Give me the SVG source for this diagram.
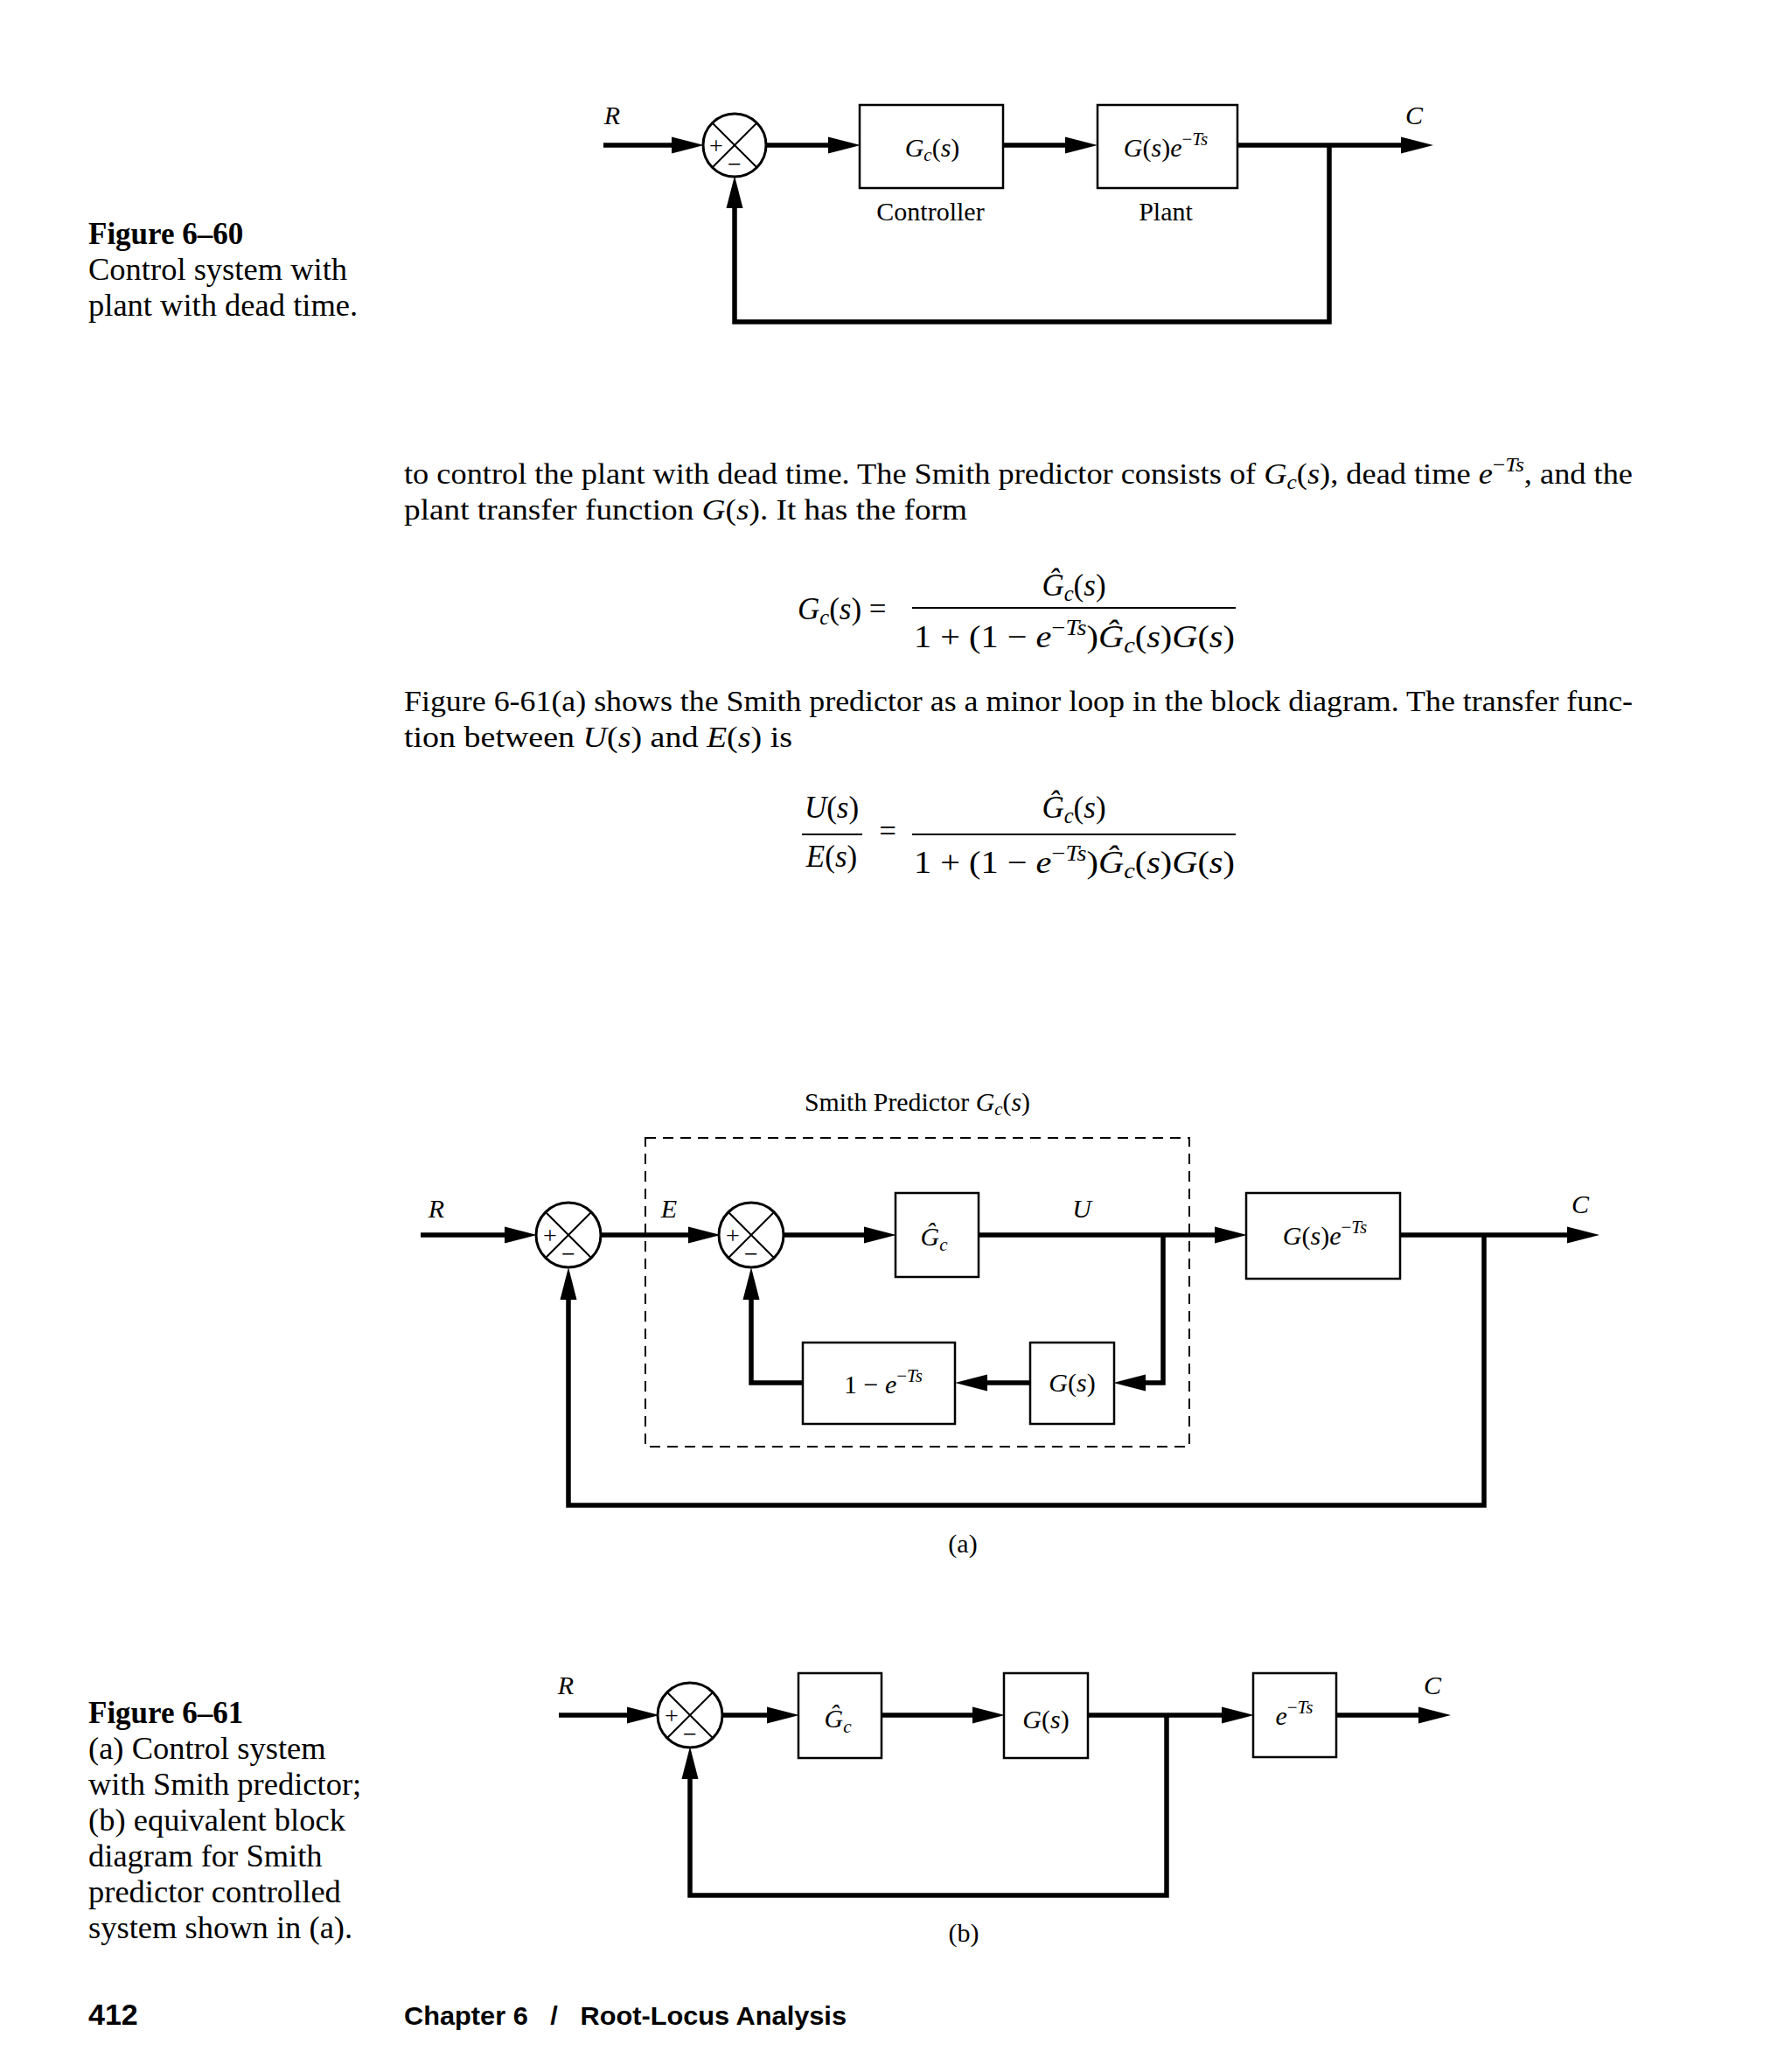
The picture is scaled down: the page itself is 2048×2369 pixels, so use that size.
<svg xmlns="http://www.w3.org/2000/svg" width="2048" height="2369" viewBox="0 0 2048 2369">
<defs>
<marker id="ah" markerUnits="userSpaceOnUse" markerWidth="38" markerHeight="20" refX="16" refY="10" orient="auto"><path d="M0,0.5 L37,10 L0,19.5 Z" fill="#000"/></marker>
</defs>
<style>
.ln{fill:none;stroke:#000;stroke-width:5.5;stroke-linejoin:miter}
.ar{marker-end:url(#ah)}
.box{fill:#fff;stroke:#000;stroke-width:2.5}
.sj{fill:#fff;stroke:#000;stroke-width:3}
.sx{stroke:#000;stroke-width:2}
.dash{fill:none;stroke:#000;stroke-width:2;stroke-dasharray:12 8}
.bar{stroke:#000;stroke-width:1.8}
text{font-family:"Liberation Serif","Times New Roman",serif;fill:#000}
.lb{font-size:30px}
.it{font-style:italic}
.sub{font-size:70%}
.cap{font-size:36.5px}
.capb{font-size:35px;font-weight:bold}
.body{font-size:33px}
.eq{font-size:35px}
.sans{font-family:"Liberation Sans",Arial,sans-serif;font-weight:bold}
.sg{font-size:28px}
</style>
<rect width="2048" height="2369" fill="#fff"/>

<!-- Figure 6-60 caption -->
<g id="caption60">
<text class="capb" x="101" y="279">Figure 6–60</text>
<text class="cap" x="101" y="320">Control system with</text>
<text class="cap" x="101" y="361">plant with dead time.</text>
</g>

<!-- Figure 6-60 diagram -->
<g id="fig60">
<g id="f60-connectors">
<path class="ln ar" d="M690,166 H784"/>
<path class="ln ar" d="M876,166 H963"/>
<path class="ln ar" d="M1147,166 H1234"/>
<path class="ln ar" d="M1415,166 H1618"/>
<path class="ln ar" d="M1520,166 V368 H840 V222"/>
</g>
<g id="f60-sum">
<circle class="sj" cx="840" cy="166" r="36"/>
<line class="sx" x1="814.5" y1="140.5" x2="865.5" y2="191.5"/>
<line class="sx" x1="865.5" y1="140.5" x2="814.5" y2="191.5"/>
<text class="sg" x="819" y="176" text-anchor="middle">+</text>
<text class="sg" x="840" y="197" text-anchor="middle">−</text>
</g>
<g id="f60-controller">
<rect class="box" x="983" y="120" width="164" height="95"/>
<text class="lb" x="1066" y="179" text-anchor="middle"><tspan class="it">G</tspan><tspan class="sub it" dy="5">c</tspan><tspan dy="-5">(</tspan><tspan class="it">s</tspan>)</text>
<text class="lb" x="1064" y="252" text-anchor="middle">Controller</text>
</g>
<g id="f60-plant">
<rect class="box" x="1255" y="120" width="160" height="95"/>
<text class="lb" x="1333" y="179" text-anchor="middle"><tspan class="it">G</tspan>(<tspan class="it">s</tspan>)<tspan class="it">e</tspan><tspan class="sub" dy="-13">−<tspan class="it">Ts</tspan></tspan></text>
<text class="lb" x="1333" y="252" text-anchor="middle">Plant</text>
</g>
<text class="lb it" x="700" y="142" text-anchor="middle">R</text>
<text class="lb it" x="1617" y="142" text-anchor="middle">C</text>
</g>

<!-- Body text -->
<g id="bodytext">
<text class="body" x="462" y="553" textLength="1405" lengthAdjust="spacingAndGlyphs">to control the plant with dead time. The Smith predictor consists of <tspan class="it">G</tspan><tspan class="sub it" dy="6">c</tspan><tspan dy="-6">(</tspan><tspan class="it">s</tspan>), dead time <tspan class="it">e</tspan><tspan class="sub" dy="-14">−<tspan class="it">Ts</tspan></tspan><tspan dy="14">, and the</tspan></text>
<text class="body" x="462" y="594" textLength="644" lengthAdjust="spacingAndGlyphs">plant transfer function <tspan class="it">G</tspan>(<tspan class="it">s</tspan>). It has the form</text>

<text class="eq" x="912" y="708"><tspan class="it">G</tspan><tspan class="sub it" dy="6">c</tspan><tspan dy="-6">(</tspan><tspan class="it">s</tspan>)  =</text>
<text class="eq" x="1228" y="681" text-anchor="middle"><tspan class="it">Ĝ</tspan><tspan class="sub it" dy="6">c</tspan><tspan dy="-6">(</tspan><tspan class="it">s</tspan>)</text>
<line class="bar" x1="1043" y1="695" x2="1413" y2="695"/>
<text class="eq" x="1045" y="740" textLength="367" lengthAdjust="spacingAndGlyphs">1 + (1 − <tspan class="it">e</tspan><tspan class="sub" dy="-14">−<tspan class="it">Ts</tspan></tspan><tspan dy="14">)</tspan><tspan class="it">Ĝ</tspan><tspan class="sub it" dy="6">c</tspan><tspan dy="-6">(</tspan><tspan class="it">s</tspan>)<tspan class="it">G</tspan>(<tspan class="it">s</tspan>)</text>

<text class="body" x="462" y="813" textLength="1405" lengthAdjust="spacingAndGlyphs">Figure 6-61(a) shows the Smith predictor as a minor loop in the block diagram. The transfer func-</text>
<text class="body" x="462" y="854" textLength="444" lengthAdjust="spacingAndGlyphs">tion between <tspan class="it">U</tspan>(<tspan class="it">s</tspan>) and <tspan class="it">E</tspan>(<tspan class="it">s</tspan>) is</text>

<text class="eq" x="951" y="935" text-anchor="middle"><tspan class="it">U</tspan>(<tspan class="it">s</tspan>)</text>
<line class="bar" x1="917" y1="954" x2="986" y2="954"/>
<text class="eq" x="951" y="991" text-anchor="middle"><tspan class="it">E</tspan>(<tspan class="it">s</tspan>)</text>
<text class="eq" x="1015" y="962" text-anchor="middle">=</text>
<text class="eq" x="1228" y="935" text-anchor="middle"><tspan class="it">Ĝ</tspan><tspan class="sub it" dy="6">c</tspan><tspan dy="-6">(</tspan><tspan class="it">s</tspan>)</text>
<line class="bar" x1="1043" y1="954" x2="1413" y2="954"/>
<text class="eq" x="1045" y="998" textLength="367" lengthAdjust="spacingAndGlyphs">1 + (1 − <tspan class="it">e</tspan><tspan class="sub" dy="-14">−<tspan class="it">Ts</tspan></tspan><tspan dy="14">)</tspan><tspan class="it">Ĝ</tspan><tspan class="sub it" dy="6">c</tspan><tspan dy="-6">(</tspan><tspan class="it">s</tspan>)<tspan class="it">G</tspan>(<tspan class="it">s</tspan>)</text>
</g>

<!-- Figure 6-61(a) -->
<g id="fig61a">
<text class="lb" x="920" y="1270" textLength="258" lengthAdjust="spacingAndGlyphs">Smith Predictor <tspan class="it">G</tspan><tspan class="sub it" dy="5">c</tspan><tspan dy="-5">(</tspan><tspan class="it">s</tspan>)</text>
<rect id="a-smithbox" class="dash" x="738" y="1301" width="622" height="353"/>
<g id="a-connectors">
<path class="ln ar" d="M481,1412 H593"/>
<path class="ln ar" d="M687,1412 H803"/>
<path class="ln ar" d="M895,1412 H1004"/>
<path class="ln ar" d="M1119,1412 H1405"/>
<path class="ln ar" d="M1330,1412 V1581 H1294"/>
<path class="ln ar" d="M1178,1581 H1113"/>
<path class="ln ar" d="M918,1581 H859 V1470"/>
<path class="ln ar" d="M1601,1412 H1808"/>
<path class="ln ar" d="M1697,1412 V1721 H650 V1470"/>
</g>
<g id="a-sum1">
<circle class="sj" cx="650" cy="1412" r="37"/>
<line class="sx" x1="623.8" y1="1385.8" x2="676.2" y2="1438.2"/>
<line class="sx" x1="676.2" y1="1385.8" x2="623.8" y2="1438.2"/>
<text class="sg" x="629" y="1422" text-anchor="middle">+</text>
<text class="sg" x="650" y="1443" text-anchor="middle">−</text>
</g>
<g id="a-sum2">
<circle class="sj" cx="859" cy="1412" r="37"/>
<line class="sx" x1="832.8" y1="1385.8" x2="885.2" y2="1438.2"/>
<line class="sx" x1="885.2" y1="1385.8" x2="832.8" y2="1438.2"/>
<text class="sg" x="838" y="1422" text-anchor="middle">+</text>
<text class="sg" x="859" y="1443" text-anchor="middle">−</text>
</g>
<g id="a-gchat">
<rect class="box" x="1024" y="1364" width="95" height="96"/>
<text class="lb" x="1068" y="1424" text-anchor="middle"><tspan class="it">Ĝ</tspan><tspan class="sub it" dy="6">c</tspan></text>
</g>
<g id="a-gs">
<rect class="box" x="1178" y="1535" width="96" height="93"/>
<text class="lb" x="1226" y="1591" text-anchor="middle"><tspan class="it">G</tspan>(<tspan class="it">s</tspan>)</text>
</g>
<g id="a-deadcomp">
<rect class="box" x="918" y="1535" width="174" height="93"/>
<text class="lb" x="1010" y="1593" text-anchor="middle">1 − <tspan class="it">e</tspan><tspan class="sub" dy="-13">−<tspan class="it">Ts</tspan></tspan></text>
</g>
<g id="a-plant">
<rect class="box" x="1425" y="1364" width="176" height="98"/>
<text class="lb" x="1515" y="1423" text-anchor="middle"><tspan class="it">G</tspan>(<tspan class="it">s</tspan>)<tspan class="it">e</tspan><tspan class="sub" dy="-13">−<tspan class="it">Ts</tspan></tspan></text>
</g>
<text class="lb it" x="499" y="1392" text-anchor="middle">R</text>
<text class="lb it" x="765" y="1392" text-anchor="middle">E</text>
<text class="lb it" x="1237" y="1392" text-anchor="middle">U</text>
<text class="lb it" x="1807" y="1387" text-anchor="middle">C</text>
<text class="lb" x="1101" y="1775" text-anchor="middle">(a)</text>
</g>

<!-- Figure 6-61(b) -->
<g id="fig61b">
<g id="b-connectors">
<path class="ln ar" d="M639,1961 H733"/>
<path class="ln ar" d="M825,1961 H893"/>
<path class="ln ar" d="M1008,1961 H1128"/>
<path class="ln ar" d="M1244,1961 H1413"/>
<path class="ln ar" d="M1528,1961 H1638"/>
<path class="ln ar" d="M1334,1961 V2167 H789 V2018"/>
</g>
<g id="b-sum">
<circle class="sj" cx="789" cy="1961" r="37"/>
<line class="sx" x1="762.8" y1="1934.8" x2="815.2" y2="1987.2"/>
<line class="sx" x1="815.2" y1="1934.8" x2="762.8" y2="1987.2"/>
<text class="sg" x="768" y="1971" text-anchor="middle">+</text>
<text class="sg" x="789" y="1992" text-anchor="middle">−</text>
</g>
<g id="b-gchat">
<rect class="box" x="913" y="1913" width="95" height="97"/>
<text class="lb" x="958" y="1975" text-anchor="middle"><tspan class="it">Ĝ</tspan><tspan class="sub it" dy="6">c</tspan></text>
</g>
<g id="b-gs">
<rect class="box" x="1148" y="1913" width="96" height="97"/>
<text class="lb" x="1196" y="1976" text-anchor="middle"><tspan class="it">G</tspan>(<tspan class="it">s</tspan>)</text>
</g>
<g id="b-dead">
<rect class="box" x="1433" y="1913" width="95" height="96"/>
<text class="lb" x="1480" y="1972" text-anchor="middle"><tspan class="it">e</tspan><tspan class="sub" dy="-13">−<tspan class="it">Ts</tspan></tspan></text>
</g>
<text class="lb it" x="647" y="1937" text-anchor="middle">R</text>
<text class="lb it" x="1638" y="1937" text-anchor="middle">C</text>
<text class="lb" x="1102" y="2220" text-anchor="middle">(b)</text>
</g>

<!-- Figure 6-61 caption -->
<g id="caption61">
<text class="capb" x="101" y="1970">Figure 6–61</text>
<text class="cap" x="101" y="2011">(a) Control system</text>
<text class="cap" x="101" y="2052">with Smith predictor;</text>
<text class="cap" x="101" y="2093">(b) equivalent block</text>
<text class="cap" x="101" y="2134">diagram for Smith</text>
<text class="cap" x="101" y="2175">predictor controlled</text>
<text class="cap" x="101" y="2216">system shown in (a).</text>
</g>

<!-- Footer -->
<g id="footer">
<text class="sans" x="101" y="2315" font-size="34">412</text>
<text class="sans" x="462" y="2315" font-size="30" xml:space="preserve" textLength="506" lengthAdjust="spacingAndGlyphs">Chapter 6   /   Root-Locus Analysis</text>
</g>
</svg>
